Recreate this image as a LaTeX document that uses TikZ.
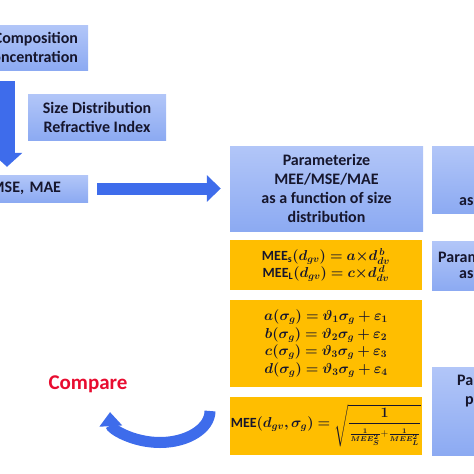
\documentclass[tikz,border=0pt]{standalone}
\usepackage{fontspec}
\setmainfont{Carlito}
\usepackage{amsmath,amssymb}
\usepackage{bm}
\usetikzlibrary{arrows.meta,calc,positioning}

\definecolor{boxtop}{RGB}{178,198,248}
\definecolor{boxbot}{RGB}{140,170,242}
\definecolor{boxorange}{RGB}{255,190,0}
\definecolor{arrowblue}{RGB}{62,108,235}
\definecolor{txtdark}{RGB}{22,22,45}
\definecolor{cmpred}{RGB}{232,12,48}

\tikzset{
  bluebox/.style={top color=boxtop, bottom color=boxbot, text=txtdark,
    font=\fontsize{16}{19}\selectfont\bfseries, align=center, inner sep=0pt},
  orangebox/.style={fill=boxorange, text=txtdark, minimum width=192pt,
    font=\fontsize{14}{17.5}\selectfont\bfseries, align=center, inner sep=0pt},
  boxtxt/.style={text=txtdark, font=\fontsize{16}{19}\selectfont\bfseries, inner sep=0pt},
  bigarrow/.style={draw=arrowblue, line width=15pt, -{Triangle[width=30pt,length=14pt]}},
  midarrow/.style={draw=arrowblue, line width=12pt, -{Triangle[width=26pt,length=14pt]}},
  curvearrow/.style={draw=arrowblue, line width=11pt, -{Triangle[width=22pt,length=14pt]}},
}

\begin{document}
\begin{tikzpicture}[x=1pt,y=-1pt]
\useasboundingbox (0,0) rectangle (474,474);

% Left column
\node[bluebox, minimum width=148pt, minimum height=45pt, text width=128pt, align=right] (comp) at (14,47.5) {Composition\\Concentration};
\node[bluebox, minimum width=138pt, minimum height=46pt] (size) at (97,117) {Size Distribution\\Refractive Index};
\node[bluebox, minimum width=148pt, minimum height=27pt, text width=94pt, align=right] (mse) at (14,188.5) {MSE, MAE};

% Middle column
\node[bluebox, minimum width=193pt, minimum height=85pt] (param) at (326.5,188.5) {Parameterize\\MEE/MSE/MAE\\as a function of size\\distribution};
\node[orangebox, minimum height=50pt] (fit1) at (326,265)
  {$\text{MEE}_{\text{s}}\bm{(d_{gv}) = a{\times}d_{dv}^{\,b}}$\\
   $\text{MEE}_{\text{L}}\bm{(d_{gv}) = c{\times}d_{dv}^{\,d}}$};
\node[orangebox, minimum height=87pt] (fit2) at (326,343.5)
  {$\bm{a(\sigma_g) = \vartheta_1\sigma_g + \varepsilon_1}$\\
   $\bm{b(\sigma_g) = \vartheta_2\sigma_g + \varepsilon_2}$\\
   $\bm{c(\sigma_g) = \vartheta_3\sigma_g + \varepsilon_3}$\\
   $\bm{d(\sigma_g) = \vartheta_3\sigma_g + \varepsilon_4}$};
\node[orangebox, minimum height=58pt] (fit3) at (326,426)
  {$\text{MEE}\bm{(d_{gv},\sigma_g) =}
   \sqrt{\dfrac{\bm{1}}{\scriptstyle\frac{\bm{1}}{\bm{MEE_S^2}}+\frac{\bm{1}}{\bm{MEE_L^2}}}}$};

% Right column (cut at the edge)
\node[bluebox, anchor=north west, minimum width=80pt, minimum height=67pt] (rbox1) at (432,146) {};
\node[bluebox, anchor=north west, minimum width=80pt, minimum height=49pt] (rbox2) at (432,241) {};
\node[bluebox, anchor=north west, minimum width=80pt, minimum height=88pt] (rbox3) at (432,367) {};
\node[boxtxt, anchor=base west] (rtxt1) at (459,205) {as};
\node[boxtxt, anchor=base west] (rtxt2) at (438,262) {Param};
\node[boxtxt, anchor=base west] (rtxt3) at (459,278) {as};
\node[boxtxt, anchor=base west] (rtxt4) at (457,385) {Pa};
\node[boxtxt, anchor=base west] (rtxt5) at (465,404) {p};

% Compare
\node[text=cmpred, font=\fontsize{21}{25}\selectfont\bfseries, inner sep=0pt] (cmp) at (88,384) {Compare};

% Arrows
\coordinate (dx) at (7,0);
\draw[bigarrow, shorten <=11pt, shorten >=8pt] (comp.south -| dx) -- (mse.north -| dx);
\draw[midarrow, shorten <=9pt, shorten >=9pt] (mse.east) -- (param.west);
\coordinate (cR) at (210,411);
\draw[curvearrow] (cR) arc[start angle=0, end angle=178, x radius=50, y radius=31.5];
\end{tikzpicture}
\end{document}
